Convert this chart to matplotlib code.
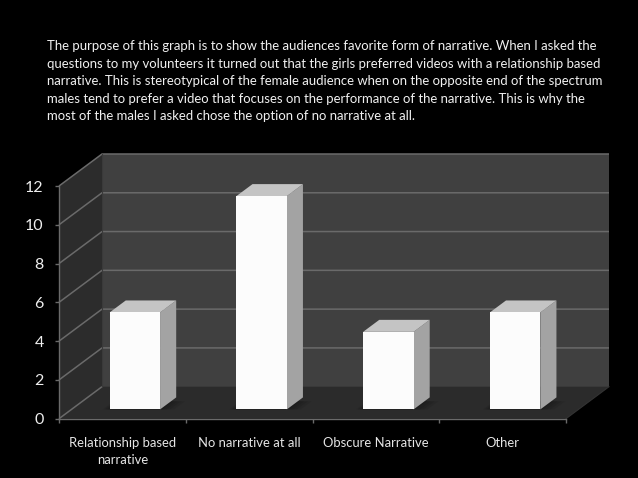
import matplotlib
matplotlib.use("Agg")
import matplotlib.pyplot as plt

plt.rcParams['font.family'] = ['Lato', 'DejaVu Sans']

intro = ("The purpose of this graph is to show the audiences favorite form of narrative. When I asked the\n"
         "questions to my volunteers it turned out that the girls preferred videos with a relationship based\n"
         "narrative. This is stereotypical of the female audience when on the opposite end of the spectrum\n"
         "males tend to prefer a video that focuses on the performance of the narrative. This is why the\n"
         "most of the males I asked chose the option of no narrative at all.")

categories = ["Relationship based\nnarrative", "No narrative at all", "Obscure Narrative", "Other"]
values = [5, 11, 4, 5]
y_ticks = [0, 2, 4, 6, 8, 10, 12]

W, H = 638, 478
# front plane of the fake 3d box, in pixels
left, right, bottom, top = 59, 566, 418.7, 186

fig = plt.figure(figsize=(W / 100, H / 100), dpi=100, facecolor='black')
ax = fig.add_axes([left / W, 1 - bottom / H, (right - left) / W, (bottom - top) / H])
ax.set_facecolor('none')
ax.set_xlim(0, len(categories))
ax.set_ylim(0, y_ticks[-1])

# one unit of depth, in data units (43px across, 32px up)
unit_x = (right - left) / len(categories)
unit_y = (bottom - top) / y_ticks[-1]
DX = 43 / unit_x
DY = 32 / unit_y


def project(x, v, d):
    return x + d * DX, v + d * DY


def face(points, color, z):
    xs, ys = zip(*[project(*p) for p in points])
    ax.fill(xs, ys, color=color, lw=0, zorder=z, clip_on=False)


n = len(categories)
vmax = y_ticks[-1]

# walls and floor
face([(0, 0, 1), (n, 0, 1), (n, vmax, 1), (0, vmax, 1)], '#404040', 1)
face([(0, 0, 0), (0, 0, 1), (0, vmax, 1), (0, vmax, 0)], '#2c2c2c', 1)
face([(0, 0, 0), (n, 0, 0), (n, 0, 1), (0, 0, 1)], '#2b2b2b', 1)

# grid on back and side wall
for v in y_ticks:
    xs, ys = zip(project(0, v, 0), project(0, v, 1), project(n, v, 1))
    if v == 0:
        xs, ys = xs[:2], ys[:2]
    ax.plot(xs, ys, color='#6a6a6a', lw=1.1, zorder=2, clip_on=False, solid_capstyle='butt')
# top and right edges of the back wall
ax.plot(*zip(project(0, 0, 1), project(0, vmax, 1)), color='#3a3a3a', lw=0.8, zorder=2, clip_on=False)
ax.plot(*zip(project(n, 0, 0), project(n, 0, 1)), color='#333333', lw=0.8, zorder=2, clip_on=False)

# bars
bar_w = 0.398
d0, d1 = 0.29, 0.665
for i, val in enumerate(values):
    x0 = i + 0.5 - bar_w / 2
    x1 = x0 + bar_w
    # soft shadow on the floor
    for grow, a in [(0.11, 0.2), (0.08, 0.25), (0.05, 0.3), (0.02, 0.4)]:
        xs, ys = zip(*[project(*p) for p in [(x0 - grow * 0.5, 0, d0), (x1 + grow, 0, d0),
                                             (x1 + grow, 0, d1 - 0.12), (x0 - grow * 0.5, 0, d1 - 0.12)]])
        ax.fill(xs, ys, color='#1a1a1a', alpha=a, lw=0, zorder=3, clip_on=False)
    face([(x1, 0, d0), (x1, 0, d1), (x1, val, d1), (x1, val, d0)], '#a3a3a3', 4)
    face([(x0, val, d0), (x1, val, d0), (x1, val, d1), (x0, val, d1)], '#c4c4c4', 4)
    face([(x0, 0, d0), (x1, 0, d0), (x1, val, d0), (x0, val, d0)], '#fcfcfc', 5)

# axes
for s in ['top', 'right']:
    ax.spines[s].set_visible(False)
for s in ['left', 'bottom']:
    ax.spines[s].set_color('#6a6a6a')
    ax.spines[s].set_linewidth(1.0)
ax.set_yticks(y_ticks)
ax.tick_params(axis='y', colors='#6a6a6a', length=3, width=1, labelcolor='#eeeeee', labelsize=11.5, pad=8)
ax.set_xticks(range(n + 1))
ax.set_xticklabels([])
ax.tick_params(axis='x', which='major', colors='#6a6a6a', length=3, width=1)
ax.set_xticks([i + 0.5 for i in range(n)], minor=True)
ax.set_xticklabels(categories, minor=True, color='#e6e6e6', fontsize=9.4, linespacing=1.5)
ax.tick_params(axis='x', which='minor', length=0, pad=13)

fig.text(47 / W, 1 - 40 / H, intro, color='#f0f0f0', fontsize=9.45, va='top', ha='left', linespacing=1.56)

fig.savefig('out.png', dpi=100, facecolor='black')
